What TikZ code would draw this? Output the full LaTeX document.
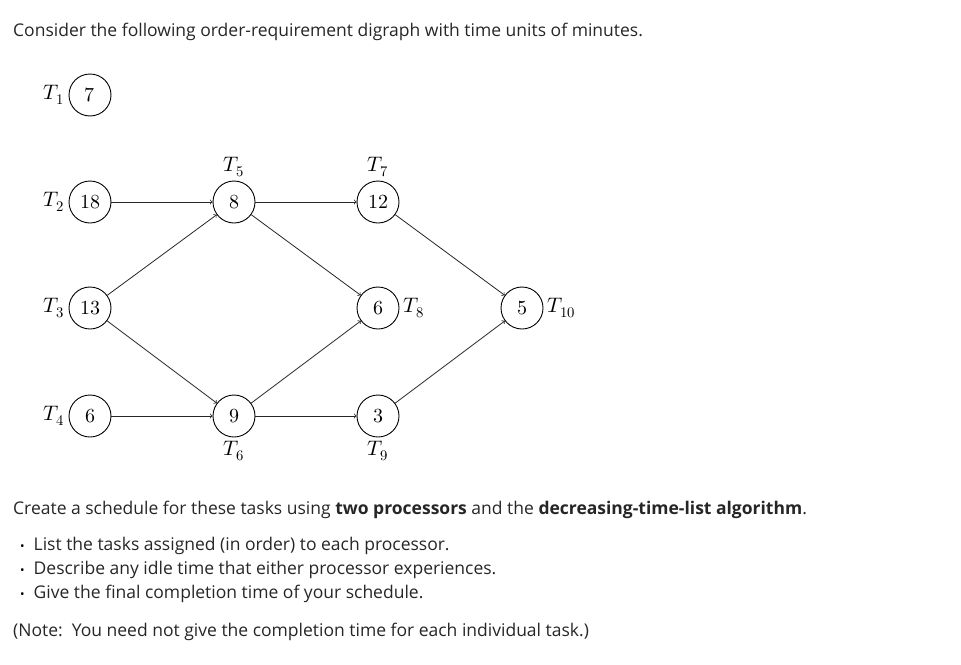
\documentclass[tikz,border=0pt]{standalone}
\usepackage{fontspec}
\setmainfont{Open Sans}
\usepackage{unicode-math}
\setmathfont{Latin Modern Math}
\usetikzlibrary{positioning}
\begin{document}
\begin{tikzpicture}[x=1pt,y=-1pt,
  task/.style={circle,draw,line width=0.9pt,minimum size=42pt,inner sep=0pt,font=\fontsize{20}{20}\selectfont},
  lab/.style={font=\fontsize{21}{21}\selectfont},
  txt/.style={anchor=west,inner sep=0pt,font=\fontsize{17.5}{20}\selectfont,text=black!85},
  edge/.style={->,line width=0.8pt,draw=black!85}]
\useasboundingbox (0,0) rectangle (961,664);
\node[txt] (intro) at (13,32) {Consider the following order-requirement digraph with time units of minutes.};
\node[task] (t1) at (90,95) {$7$};
\node[task] (t2) at (90,202) {$18$};
\node[task] (t3) at (90,308) {$13$};
\node[task] (t4) at (90,416) {$6$};
\node[task] (t5) at (234,202) {$8$};
\node[task] (t6) at (234,416) {$9$};
\node[task] (t7) at (378,202) {$12$};
\node[task] (t8) at (378,308) {$6$};
\node[task] (t9) at (378,416) {$3$};
\node[task] (t10) at (522,308) {$5$};
\node[lab,left=1pt of t1] (l1) {$T_1$};
\node[lab,left=1pt of t2] (l2) {$T_2$};
\node[lab,left=1pt of t3] (l3) {$T_3$};
\node[lab,left=1pt of t4] (l4) {$T_4$};
\node[lab,above=0pt of t5] (l5) {$T_5$};
\node[lab,above=0pt of t7] (l7) {$T_7$};
\node[lab,below=0pt of t6] (l6) {$T_6$};
\node[lab,below=0pt of t9] (l9) {$T_9$};
\node[lab,right=1pt of t8] (l8) {$T_8$};
\node[lab,right=1pt of t10] (l10) {$T_{10}$};
\draw[edge] (t2) -- (t5);
\draw[edge] (t3) -- (t5);
\draw[edge] (t3) -- (t6);
\draw[edge] (t4) -- (t6);
\draw[edge] (t5) -- (t7);
\draw[edge] (t5) -- (t8);
\draw[edge] (t6) -- (t8);
\draw[edge] (t6) -- (t9);
\draw[edge] (t7) -- (t10);
\draw[edge] (t9) -- (t10);
\node[txt] (q) at (13,510) {Create a schedule for these tasks using \textbf{two processors} and the \textbf{decreasing-time-list algorithm}.};
\node[txt] (b1) at (20,546) {\textcolor{black}{\large•}\hspace{9pt}List the tasks assigned (in order) to each processor.};
\node[txt] (b2) at (20,570) {\textcolor{black}{\large•}\hspace{9pt}Describe any idle time that either processor experiences.};
\node[txt] (b3) at (20,594) {\textcolor{black}{\large•}\hspace{9pt}Give the final completion time of your schedule.};
\node[txt] (n) at (13,632) {(Note:\ \ You need not give the completion time for each individual task.)};
\end{tikzpicture}
\end{document}
